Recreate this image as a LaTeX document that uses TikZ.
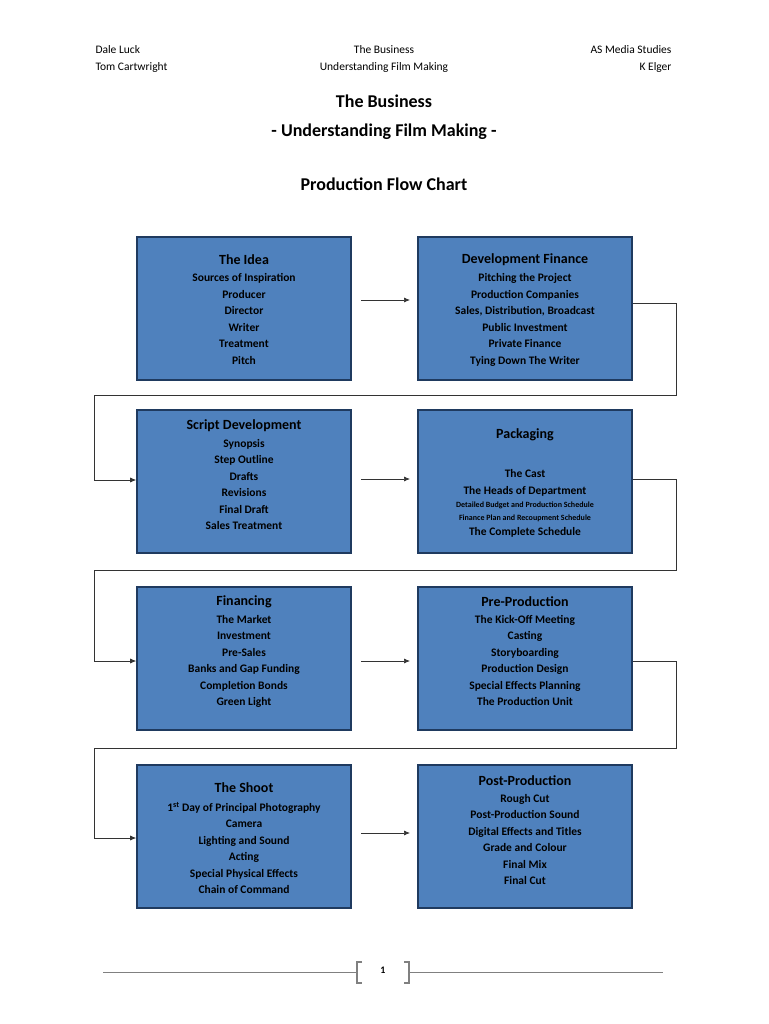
\documentclass[tikz,border=0pt]{standalone}
\usepackage{fontspec}
\setmainfont{Carlito}
\usetikzlibrary{arrows.meta}
\definecolor{boxfill}{HTML}{4F81BD}
\definecolor{boxdraw}{HTML}{1F3A5F}
\begin{document}
\begin{tikzpicture}[x=1pt,y=-1pt,
  blk/.style={draw=boxdraw,line width=1.6pt,fill=boxfill},
  ttl/.style={font=\bfseries\fontsize{14}{16}\selectfont,anchor=center},
  itm/.style={font=\bfseries\fontsize{11.5}{16.5}\selectfont,align=center,anchor=north},
  con/.style={draw=black!80,line width=0.7pt},
  arr/.style={con,-{Latex[length=6pt,width=5pt]}},
  hd/.style={font=\fontsize{11.5}{14}\selectfont}]
\useasboundingbox (0,0) rectangle (768,1024);
\fill[white] (0,0) rectangle (768,1024);
% header
\node[hd,anchor=west] (h1) at (92,50) {Dale Luck};
\node[hd,anchor=west] (h2) at (92,67) {Tom Cartwright};
\node[hd] (h3) at (384,50) {The Business};
\node[hd] (h4) at (384,67) {Understanding Film Making};
\node[hd,anchor=east] (h5) at (675,50) {AS Media Studies};
\node[hd,anchor=east] (h6) at (675,67) {K Elger};
\node[font=\bfseries\fontsize{18}{20}\selectfont] (t1) at (384,101) {The Business};
\node[font=\bfseries\fontsize{18}{20}\selectfont] (t2) at (384,132) {- Understanding Film Making -};
\node[font=\bfseries\fontsize{18}{20}\selectfont] (t3) at (384,184) {Production Flow Chart};
% boxes
\node[blk,minimum width=214pt,minimum height=143pt] (b1) at (244,308.5) {};
\node[blk,minimum width=214pt,minimum height=143pt] (b2) at (525,308.5) {};
\node[blk,minimum width=214pt,minimum height=143pt] (b3) at (244,481.5) {};
\node[blk,minimum width=214pt,minimum height=143pt] (b4) at (525,481.5) {};
\node[blk,minimum width=214pt,minimum height=143pt] (b5) at (244,658.5) {};
\node[blk,minimum width=214pt,minimum height=143pt] (b6) at (525,658.5) {};
\node[blk,minimum width=214pt,minimum height=143pt] (b7) at (244,836.5) {};
\node[blk,minimum width=214pt,minimum height=143pt] (b8) at (525,836.5) {};
% texts
\node[ttl] (l1) at (244,260) {The Idea};
\node[itm] (i1) at (244,270) {Sources of Inspiration\\Producer\\Director\\Writer\\Treatment\\Pitch};
\node[ttl] (l2) at (525,260) {Development Finance};
\node[itm] (i2) at (525,270) {Pitching the Project\\Production Companies\\Sales, Distribution, Broadcast\\Public Investment\\Private Finance\\Tying Down The Writer};
\node[ttl] (l3) at (244,426) {Script Development};
\node[itm] (i3) at (244,435.5) {Synopsis\\Step Outline\\Drafts\\Revisions\\Final Draft\\Sales Treatment};
\node[ttl] (l4) at (525,435) {Packaging};
\node[itm] (i4) at (525,466) {The Cast\\The Heads of Department};
\node[font=\bfseries\fontsize{8}{13}\selectfont,align=center,anchor=north] (s4) at (525,498.5) {Detailed Budget and Production Schedule\\Finance Plan and Recoupment Schedule};
\node[itm] (j4) at (525,524) {The Complete Schedule};
\node[ttl] (l5) at (244,602) {Financing};
\node[itm] (i5) at (244,611.5) {The Market\\Investment\\Pre-Sales\\Banks and Gap Funding\\Completion Bonds\\Green Light};
\node[ttl] (l6) at (525,602) {Pre-Production};
\node[itm] (i6) at (525,611.5) {The Kick-Off Meeting\\Casting\\Storyboarding\\Production Design\\Special Effects Planning\\The Production Unit};
\node[ttl] (l7) at (244,788) {The Shoot};
\node[itm] (i7) at (244,798.5) {1\textsuperscript{st} Day of Principal Photography\\Camera\\Lighting and Sound\\Acting\\Special Physical Effects\\Chain of Command};
\node[ttl] (l8) at (525,781) {Post-Production};
\node[itm] (i8) at (525,790.5) {Rough Cut\\Post-Production Sound\\Digital Effects and Titles\\Grade and Colour\\Final Mix\\Final Cut};
% connectors
\coordinate (c1) at (361,300); \coordinate (c2) at (410,300);
\draw[arr] (c1) -- (c2);
\coordinate (c3) at (361,479); \coordinate (c4) at (410,479);
\draw[arr] (c3) -- (c4);
\coordinate (c5) at (361,661); \coordinate (c6) at (410,661);
\draw[arr] (c5) -- (c6);
\coordinate (c7) at (361,833); \coordinate (c8) at (410,833);
\draw[arr] (c7) -- (c8);
\draw[arr] (b2.east |- 0,303) -- (676,303) -- (676,395) -- (94,395) -- (94,480) -- (b3.west |- 0,480);
\draw[arr] (b4.east |- 0,479) -- (676,479) -- (676,570) -- (94,570) -- (94,661) -- (b5.west |- 0,661);
\draw[arr] (b6.east |- 0,661) -- (676,661) -- (676,748) -- (94,748) -- (94,838) -- (b7.west |- 0,838);
% footer
\coordinate (f1) at (103,972); \coordinate (f2) at (356,972);
\coordinate (f3) at (410,972); \coordinate (f4) at (663,972);
\draw[gray,line width=0.8pt] (f1) -- (f2);
\draw[gray,line width=0.8pt] (f3) -- (f4);
\draw[gray,line width=1.5pt] (362,962) -- (357,962) -- (357,983) -- (362,983);
\draw[gray,line width=1.5pt] (404,962) -- (409,962) -- (409,983) -- (404,983);
\node[font=\bfseries\fontsize{10}{12}\selectfont] (pg) at (383,970) {1};
\end{tikzpicture}
\end{document}
